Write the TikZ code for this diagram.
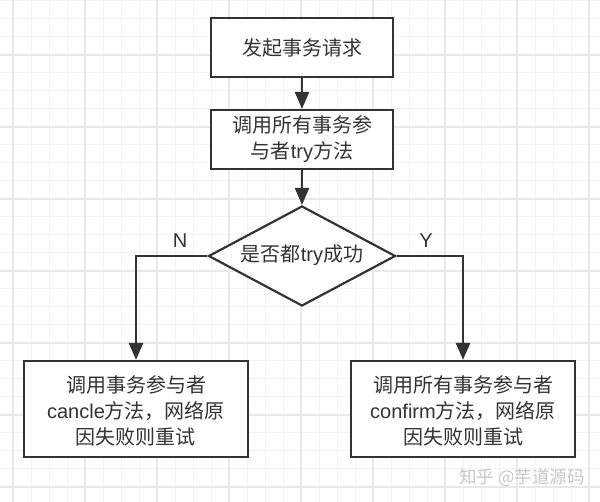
\documentclass[tikz,border=0pt]{standalone}
\usepackage{fontspec}
\setmainfont{Noto Sans CJK SC}
\newfontfamily\latinf{Liberation Sans}
\usetikzlibrary{arrows.meta,shapes.geometric}
\definecolor{ink}{HTML}{333333}
\definecolor{minorgrid}{HTML}{F3F3F3}
\definecolor{majorgrid}{HTML}{E8E8E8}
\tikzset{
 x=1pt,y=-1pt,
 boxnode/.style={draw=ink,line width=2.2pt,fill=white,text=ink,align=center,minimum width=#1,inner sep=0pt,font=\fontsize{20}{26}\selectfont},
 link/.style={draw=ink,line width=2.6pt,-{Triangle[length=17pt,width=14pt]}},
 letter/.style={text=ink,font=\latinf\fontsize{20}{24}\selectfont,inner sep=0pt},
}
\begin{document}
\begin{tikzpicture}
\useasboundingbox (0,0) rectangle (600,502);
\fill[white] (0,0) rectangle (600,502);
\foreach \i in {-1,...,33} \draw[minorgrid,line width=1pt] ({13+18*\i},0) -- ({13+18*\i},502);
\foreach \i in {-1,...,28} \draw[minorgrid,line width=1pt] (0,{19+18*\i}) -- (600,{19+18*\i});
\foreach \i in {0,...,8} \draw[majorgrid,line width=1.2pt] ({13+72*\i},0) -- ({13+72*\i},502);
\foreach \i in {0,...,6} \draw[majorgrid,line width=1.2pt] (0,{55+72*\i}) -- (600,{55+72*\i});

\node[boxnode=182pt,minimum height=59pt] (start) at (302,47.5) {发起事务请求};
\node[boxnode=182pt,minimum height=59pt] (try) at (302,139.5) {调用所有事务参\\与者{\latinf try}方法};
\node[draw=ink,line width=2.2pt,fill=white,text=ink,diamond,aspect=1.87,inner sep=0pt,minimum width=187pt,minimum height=100pt,font=\fontsize{20}{26}\selectfont] (ok) at (302,256) {};
\node[text=ink,font=\fontsize{20}{26}\selectfont,inner sep=0pt] (oktext) at (302,255) {是否都{\latinf try}成功};
\node[boxnode=224pt,minimum height=96pt,text depth=0pt] (cancel) at (136,409) {\raisebox{-2pt}{调用事务参与者}\\\raisebox{-2pt}{{\latinf cancle}方法，网络原}\\\raisebox{-2pt}{因失败则重试}};
\node[boxnode=224pt,minimum height=96pt,text depth=0pt] (confirm) at (463,409) {\raisebox{-2pt}{调用所有事务参与者}\\\raisebox{-2pt}{{\latinf confirm}方法，网络原}\\\raisebox{-2pt}{因失败则重试}};

\draw[link] (start) -- (try);
\draw[link] (try) -- (ok);
\draw[link] (ok.west) -| (cancel.north);
\draw[link] (ok.east) -| (confirm.north);

\node[letter] (n) at (180,241) {N};
\node[letter] (y) at (426,241) {Y};
\node[text=black!22,font=\fontsize{17.5}{20}\selectfont,inner sep=0pt] (mark) at (522,478) {知乎 @芋道源码};
\end{tikzpicture}
\end{document}
